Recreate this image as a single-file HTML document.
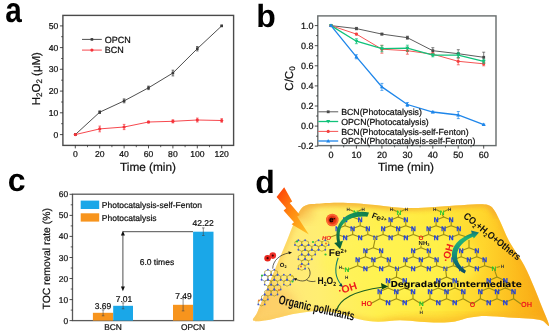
<!DOCTYPE html>
<html><head><meta charset="utf-8"><title>figure</title>
<style>html,body{margin:0;padding:0;background:#fff}svg{display:block}svg text{font-family:"Liberation Sans",Arial,sans-serif;text-rendering:geometricPrecision}</style></head>
<body><svg width="550" height="335" viewBox="0 0 550 335" font-family='"Liberation Sans", Arial, sans-serif'>
<rect width="550" height="335" fill="#fff"/>
<rect x="62.9" y="15.4" width="170.7" height="130.0" fill="#fff" stroke="#4a4a4a" stroke-width="1.4"/>
<line x1="59.9" y1="134.6" x2="62.9" y2="134.6" stroke="#222" stroke-width="0.8"/>
<text x="58.3" y="137.7" font-size="8.6" text-anchor="end" font-weight="normal" fill="#111" stroke="#111" stroke-width="0.22" >0</text>
<line x1="59.9" y1="112.8" x2="62.9" y2="112.8" stroke="#222" stroke-width="0.8"/>
<text x="58.3" y="115.9" font-size="8.6" text-anchor="end" font-weight="normal" fill="#111" stroke="#111" stroke-width="0.22" >10</text>
<line x1="59.9" y1="91.1" x2="62.9" y2="91.1" stroke="#222" stroke-width="0.8"/>
<text x="58.3" y="94.2" font-size="8.6" text-anchor="end" font-weight="normal" fill="#111" stroke="#111" stroke-width="0.22" >20</text>
<line x1="59.9" y1="69.3" x2="62.9" y2="69.3" stroke="#222" stroke-width="0.8"/>
<text x="58.3" y="72.4" font-size="8.6" text-anchor="end" font-weight="normal" fill="#111" stroke="#111" stroke-width="0.22" >30</text>
<line x1="59.9" y1="47.6" x2="62.9" y2="47.6" stroke="#222" stroke-width="0.8"/>
<text x="58.3" y="50.7" font-size="8.6" text-anchor="end" font-weight="normal" fill="#111" stroke="#111" stroke-width="0.22" >40</text>
<line x1="59.9" y1="25.9" x2="62.9" y2="25.9" stroke="#222" stroke-width="0.8"/>
<text x="58.3" y="29.0" font-size="8.6" text-anchor="end" font-weight="normal" fill="#111" stroke="#111" stroke-width="0.22" >50</text>
<line x1="61.1" y1="123.7" x2="62.9" y2="123.7" stroke="#222" stroke-width="0.7"/>
<line x1="61.1" y1="102.0" x2="62.9" y2="102.0" stroke="#222" stroke-width="0.7"/>
<line x1="61.1" y1="80.2" x2="62.9" y2="80.2" stroke="#222" stroke-width="0.7"/>
<line x1="61.1" y1="58.5" x2="62.9" y2="58.5" stroke="#222" stroke-width="0.7"/>
<line x1="61.1" y1="36.7" x2="62.9" y2="36.7" stroke="#222" stroke-width="0.7"/>
<line x1="75.3" y1="145.4" x2="75.3" y2="148.4" stroke="#222" stroke-width="0.8"/>
<text x="75.3" y="157.1" font-size="8.6" text-anchor="middle" font-weight="normal" fill="#111" stroke="#111" stroke-width="0.22" >0</text>
<line x1="99.7" y1="145.4" x2="99.7" y2="148.4" stroke="#222" stroke-width="0.8"/>
<text x="99.7" y="157.1" font-size="8.6" text-anchor="middle" font-weight="normal" fill="#111" stroke="#111" stroke-width="0.22" >20</text>
<line x1="124.1" y1="145.4" x2="124.1" y2="148.4" stroke="#222" stroke-width="0.8"/>
<text x="124.1" y="157.1" font-size="8.6" text-anchor="middle" font-weight="normal" fill="#111" stroke="#111" stroke-width="0.22" >40</text>
<line x1="148.5" y1="145.4" x2="148.5" y2="148.4" stroke="#222" stroke-width="0.8"/>
<text x="148.5" y="157.1" font-size="8.6" text-anchor="middle" font-weight="normal" fill="#111" stroke="#111" stroke-width="0.22" >60</text>
<line x1="172.9" y1="145.4" x2="172.9" y2="148.4" stroke="#222" stroke-width="0.8"/>
<text x="172.9" y="157.1" font-size="8.6" text-anchor="middle" font-weight="normal" fill="#111" stroke="#111" stroke-width="0.22" >80</text>
<line x1="197.3" y1="145.4" x2="197.3" y2="148.4" stroke="#222" stroke-width="0.8"/>
<text x="197.3" y="157.1" font-size="8.6" text-anchor="middle" font-weight="normal" fill="#111" stroke="#111" stroke-width="0.22" >100</text>
<line x1="221.7" y1="145.4" x2="221.7" y2="148.4" stroke="#222" stroke-width="0.8"/>
<text x="221.7" y="157.1" font-size="8.6" text-anchor="middle" font-weight="normal" fill="#111" stroke="#111" stroke-width="0.22" >120</text>
<line x1="87.5" y1="145.4" x2="87.5" y2="147.20000000000002" stroke="#222" stroke-width="0.7"/>
<line x1="111.9" y1="145.4" x2="111.9" y2="147.20000000000002" stroke="#222" stroke-width="0.7"/>
<line x1="136.3" y1="145.4" x2="136.3" y2="147.20000000000002" stroke="#222" stroke-width="0.7"/>
<line x1="160.7" y1="145.4" x2="160.7" y2="147.20000000000002" stroke="#222" stroke-width="0.7"/>
<line x1="185.1" y1="145.4" x2="185.1" y2="147.20000000000002" stroke="#222" stroke-width="0.7"/>
<line x1="209.5" y1="145.4" x2="209.5" y2="147.20000000000002" stroke="#222" stroke-width="0.7"/>
<polyline points="75.3,134.6 99.7,112.2 124.1,100.9 148.5,87.8 172.9,73.0 197.3,48.7 221.7,25.9" fill="none" stroke="#3a3a3a" stroke-width="0.9"/>
<path d="M75.3 134.2V135.0M74.0 134.2h2.6M74.0 135.0h2.6" stroke="#3a3a3a" stroke-width="0.7" fill="none"/>
<rect x="74.0" y="133.3" width="2.6" height="2.6" fill="#3a3a3a"/>
<path d="M99.7 110.9V113.5M98.4 110.9h2.6M98.4 113.5h2.6" stroke="#3a3a3a" stroke-width="0.7" fill="none"/>
<rect x="98.4" y="110.9" width="2.6" height="2.6" fill="#3a3a3a"/>
<path d="M124.1 98.9V102.8M122.8 98.9h2.6M122.8 102.8h2.6" stroke="#3a3a3a" stroke-width="0.7" fill="none"/>
<rect x="122.8" y="99.6" width="2.6" height="2.6" fill="#3a3a3a"/>
<path d="M148.5 86.1V89.6M147.2 86.1h2.6M147.2 89.6h2.6" stroke="#3a3a3a" stroke-width="0.7" fill="none"/>
<rect x="147.2" y="86.5" width="2.6" height="2.6" fill="#3a3a3a"/>
<path d="M172.9 70.2V75.9M171.6 70.2h2.6M171.6 75.9h2.6" stroke="#3a3a3a" stroke-width="0.7" fill="none"/>
<rect x="171.6" y="71.7" width="2.6" height="2.6" fill="#3a3a3a"/>
<path d="M197.3 46.5V50.9M196.0 46.5h2.6M196.0 50.9h2.6" stroke="#3a3a3a" stroke-width="0.7" fill="none"/>
<rect x="196.0" y="47.4" width="2.6" height="2.6" fill="#3a3a3a"/>
<path d="M221.7 25.2V26.5M220.4 25.2h2.6M220.4 26.5h2.6" stroke="#3a3a3a" stroke-width="0.7" fill="none"/>
<rect x="220.4" y="24.6" width="2.6" height="2.6" fill="#3a3a3a"/>
<polyline points="75.3,134.6 99.7,128.9 124.1,127.0 148.5,122.0 172.9,121.3 197.3,120.0 221.7,120.5" fill="none" stroke="#f5333a" stroke-width="0.9"/>
<path d="M75.3 134.2V135.0M74.0 134.2h2.6M74.0 135.0h2.6" stroke="#f5333a" stroke-width="0.7" fill="none"/>
<circle cx="75.3" cy="134.6" r="1.6" fill="#f5333a"/>
<path d="M99.7 126.1V131.8M98.4 126.1h2.6M98.4 131.8h2.6" stroke="#f5333a" stroke-width="0.7" fill="none"/>
<circle cx="99.7" cy="128.9" r="1.6" fill="#f5333a"/>
<path d="M124.1 124.4V129.6M122.8 124.4h2.6M122.8 129.6h2.6" stroke="#f5333a" stroke-width="0.7" fill="none"/>
<circle cx="124.1" cy="127.0" r="1.6" fill="#f5333a"/>
<path d="M148.5 121.1V122.9M147.2 121.1h2.6M147.2 122.9h2.6" stroke="#f5333a" stroke-width="0.7" fill="none"/>
<circle cx="148.5" cy="122.0" r="1.6" fill="#f5333a"/>
<path d="M172.9 119.8V122.9M171.6 119.8h2.6M171.6 122.9h2.6" stroke="#f5333a" stroke-width="0.7" fill="none"/>
<circle cx="172.9" cy="121.3" r="1.6" fill="#f5333a"/>
<path d="M197.3 118.1V122.0M196.0 118.1h2.6M196.0 122.0h2.6" stroke="#f5333a" stroke-width="0.7" fill="none"/>
<circle cx="197.3" cy="120.0" r="1.6" fill="#f5333a"/>
<path d="M221.7 118.7V122.2M220.4 118.7h2.6M220.4 122.2h2.6" stroke="#f5333a" stroke-width="0.7" fill="none"/>
<circle cx="221.7" cy="120.5" r="1.6" fill="#f5333a"/>
<line x1="82" y1="39.4" x2="101.8" y2="39.4" stroke="#3a3a3a" stroke-width="0.9"/><rect x="90.6" y="38.1" width="2.6" height="2.6" fill="#3a3a3a"/>
<line x1="82" y1="50.1" x2="101.8" y2="50.1" stroke="#f5333a" stroke-width="0.9"/><circle cx="91.9" cy="50.1" r="1.6" fill="#f5333a"/>
<text x="104.8" y="42.6" font-size="9" text-anchor="start" font-weight="normal" fill="#111" stroke="#111" stroke-width="0.22" >OPCN</text>
<text x="104.8" y="53.3" font-size="9" text-anchor="start" font-weight="normal" fill="#111" stroke="#111" stroke-width="0.22" >BCN</text>
<text transform="translate(39.6,78.7) rotate(-90)" font-size="11.5" text-anchor="middle" fill="#111" stroke="#111" stroke-width="0.2">H<tspan font-size="8" dy="2.5">2</tspan><tspan dy="-2.5">O</tspan><tspan font-size="8" dy="2.5">2</tspan><tspan dy="-2.5"> (μM)</tspan></text>
<text x="148.0" y="171.0" font-size="11.8" text-anchor="middle" font-weight="normal" fill="#111" stroke="#111" stroke-width="0.22" >Time (min)</text>
<rect x="317.8" y="15.9" width="178.2" height="129.7" fill="#fff" stroke="#666c6c" stroke-width="1.4"/>
<line x1="314.8" y1="146.2" x2="317.8" y2="146.2" stroke="#222" stroke-width="0.8"/>
<text x="313.6" y="149.4" font-size="9" text-anchor="end" font-weight="normal" fill="#111" stroke="#111" stroke-width="0.22" >-0.2</text>
<line x1="316.0" y1="136.2" x2="317.8" y2="136.2" stroke="#222" stroke-width="0.7"/>
<line x1="314.8" y1="126.1" x2="317.8" y2="126.1" stroke="#222" stroke-width="0.8"/>
<text x="313.6" y="129.3" font-size="9" text-anchor="end" font-weight="normal" fill="#111" stroke="#111" stroke-width="0.22" >0.0</text>
<line x1="316.0" y1="116.0" x2="317.8" y2="116.0" stroke="#222" stroke-width="0.7"/>
<line x1="314.8" y1="106.0" x2="317.8" y2="106.0" stroke="#222" stroke-width="0.8"/>
<text x="313.6" y="109.2" font-size="9" text-anchor="end" font-weight="normal" fill="#111" stroke="#111" stroke-width="0.22" >0.2</text>
<line x1="316.0" y1="95.9" x2="317.8" y2="95.9" stroke="#222" stroke-width="0.7"/>
<line x1="314.8" y1="85.9" x2="317.8" y2="85.9" stroke="#222" stroke-width="0.8"/>
<text x="313.6" y="89.1" font-size="9" text-anchor="end" font-weight="normal" fill="#111" stroke="#111" stroke-width="0.22" >0.4</text>
<line x1="316.0" y1="75.8" x2="317.8" y2="75.8" stroke="#222" stroke-width="0.7"/>
<line x1="314.8" y1="65.8" x2="317.8" y2="65.8" stroke="#222" stroke-width="0.8"/>
<text x="313.6" y="69.0" font-size="9" text-anchor="end" font-weight="normal" fill="#111" stroke="#111" stroke-width="0.22" >0.6</text>
<line x1="316.0" y1="55.8" x2="317.8" y2="55.8" stroke="#222" stroke-width="0.7"/>
<line x1="314.8" y1="45.7" x2="317.8" y2="45.7" stroke="#222" stroke-width="0.8"/>
<text x="313.6" y="48.9" font-size="9" text-anchor="end" font-weight="normal" fill="#111" stroke="#111" stroke-width="0.22" >0.8</text>
<line x1="316.0" y1="35.6" x2="317.8" y2="35.6" stroke="#222" stroke-width="0.7"/>
<line x1="314.8" y1="25.6" x2="317.8" y2="25.6" stroke="#222" stroke-width="0.8"/>
<text x="313.6" y="28.8" font-size="9" text-anchor="end" font-weight="normal" fill="#111" stroke="#111" stroke-width="0.22" >1.0</text>
<line x1="331.0" y1="145.6" x2="331.0" y2="148.6" stroke="#222" stroke-width="0.8"/>
<text x="331.0" y="157.8" font-size="9" text-anchor="middle" font-weight="normal" fill="#111" stroke="#111" stroke-width="0.22" >0</text>
<line x1="356.4" y1="145.6" x2="356.4" y2="148.6" stroke="#222" stroke-width="0.8"/>
<text x="356.4" y="157.8" font-size="9" text-anchor="middle" font-weight="normal" fill="#111" stroke="#111" stroke-width="0.22" >10</text>
<line x1="381.9" y1="145.6" x2="381.9" y2="148.6" stroke="#222" stroke-width="0.8"/>
<text x="381.9" y="157.8" font-size="9" text-anchor="middle" font-weight="normal" fill="#111" stroke="#111" stroke-width="0.22" >20</text>
<line x1="407.4" y1="145.6" x2="407.4" y2="148.6" stroke="#222" stroke-width="0.8"/>
<text x="407.4" y="157.8" font-size="9" text-anchor="middle" font-weight="normal" fill="#111" stroke="#111" stroke-width="0.22" >30</text>
<line x1="432.8" y1="145.6" x2="432.8" y2="148.6" stroke="#222" stroke-width="0.8"/>
<text x="432.8" y="157.8" font-size="9" text-anchor="middle" font-weight="normal" fill="#111" stroke="#111" stroke-width="0.22" >40</text>
<line x1="458.2" y1="145.6" x2="458.2" y2="148.6" stroke="#222" stroke-width="0.8"/>
<text x="458.2" y="157.8" font-size="9" text-anchor="middle" font-weight="normal" fill="#111" stroke="#111" stroke-width="0.22" >50</text>
<line x1="483.7" y1="145.6" x2="483.7" y2="148.6" stroke="#222" stroke-width="0.8"/>
<text x="483.7" y="157.8" font-size="9" text-anchor="middle" font-weight="normal" fill="#111" stroke="#111" stroke-width="0.22" >60</text>
<line x1="343.7" y1="145.6" x2="343.7" y2="147.4" stroke="#222" stroke-width="0.7"/>
<line x1="369.2" y1="145.6" x2="369.2" y2="147.4" stroke="#222" stroke-width="0.7"/>
<line x1="394.6" y1="145.6" x2="394.6" y2="147.4" stroke="#222" stroke-width="0.7"/>
<line x1="420.1" y1="145.6" x2="420.1" y2="147.4" stroke="#222" stroke-width="0.7"/>
<line x1="445.5" y1="145.6" x2="445.5" y2="147.4" stroke="#222" stroke-width="0.7"/>
<line x1="471.0" y1="145.6" x2="471.0" y2="147.4" stroke="#222" stroke-width="0.7"/>
<polyline points="331.0,25.6 356.4,28.6 381.9,34.1 407.4,37.7 432.8,50.7 458.2,53.7 483.7,57.3" fill="none" stroke="#4a4a4a" stroke-width="0.9"/>
<rect x="329.6" y="24.2" width="2.8" height="2.8" fill="#4a4a4a"/>
<path d="M356.4 27.4V29.8M354.9 27.4h3M354.9 29.8h3" stroke="#4a4a4a" stroke-width="0.7" fill="none"/>
<rect x="355.1" y="27.2" width="2.8" height="2.8" fill="#4a4a4a"/>
<path d="M381.9 33.3V34.9M380.4 33.3h3M380.4 34.9h3" stroke="#4a4a4a" stroke-width="0.7" fill="none"/>
<rect x="380.5" y="32.7" width="2.8" height="2.8" fill="#4a4a4a"/>
<path d="M407.4 36.2V39.2M405.9 36.2h3M405.9 39.2h3" stroke="#4a4a4a" stroke-width="0.7" fill="none"/>
<rect x="406.0" y="36.3" width="2.8" height="2.8" fill="#4a4a4a"/>
<path d="M432.8 47.7V53.7M431.3 47.7h3M431.3 53.7h3" stroke="#4a4a4a" stroke-width="0.7" fill="none"/>
<rect x="431.4" y="49.3" width="2.8" height="2.8" fill="#4a4a4a"/>
<path d="M458.2 49.7V57.8M456.8 49.7h3M456.8 57.8h3" stroke="#4a4a4a" stroke-width="0.7" fill="none"/>
<rect x="456.9" y="52.3" width="2.8" height="2.8" fill="#4a4a4a"/>
<path d="M483.7 52.2V62.3M482.2 52.2h3M482.2 62.3h3" stroke="#4a4a4a" stroke-width="0.7" fill="none"/>
<rect x="482.3" y="55.9" width="2.8" height="2.8" fill="#4a4a4a"/>
<polyline points="331.0,25.6 356.4,34.1 381.9,49.2 407.4,50.7 432.8,54.2 458.2,61.3 483.7,63.8" fill="none" stroke="#f4403f" stroke-width="0.9"/>
<circle cx="331.0" cy="25.6" r="1.6" fill="#f4403f"/>
<path d="M356.4 33.3V34.9M354.9 33.3h3M354.9 34.9h3" stroke="#f4403f" stroke-width="0.7" fill="none"/>
<circle cx="356.4" cy="34.1" r="1.6" fill="#f4403f"/>
<path d="M381.9 45.2V53.2M380.4 45.2h3M380.4 53.2h3" stroke="#f4403f" stroke-width="0.7" fill="none"/>
<circle cx="381.9" cy="49.2" r="1.6" fill="#f4403f"/>
<path d="M407.4 47.2V54.2M405.9 47.2h3M405.9 54.2h3" stroke="#f4403f" stroke-width="0.7" fill="none"/>
<circle cx="407.4" cy="50.7" r="1.6" fill="#f4403f"/>
<path d="M432.8 52.7V55.7M431.3 52.7h3M431.3 55.7h3" stroke="#f4403f" stroke-width="0.7" fill="none"/>
<circle cx="432.8" cy="54.2" r="1.6" fill="#f4403f"/>
<path d="M458.2 57.8V64.8M456.8 57.8h3M456.8 64.8h3" stroke="#f4403f" stroke-width="0.7" fill="none"/>
<circle cx="458.2" cy="61.3" r="1.6" fill="#f4403f"/>
<path d="M483.7 61.8V65.8M482.2 61.8h3M482.2 65.8h3" stroke="#f4403f" stroke-width="0.7" fill="none"/>
<circle cx="483.7" cy="63.8" r="1.6" fill="#f4403f"/>
<polyline points="331.0,25.6 356.4,41.2 381.9,48.7 407.4,48.2 432.8,55.2 458.2,55.2 483.7,61.3" fill="none" stroke="#10c27a" stroke-width="1.3"/>
<path d="M331.0 27.6l2 -3.4h-4z" fill="#10c27a"/>
<path d="M356.4 38.7V43.7M354.9 38.7h3M354.9 43.7h3" stroke="#10c27a" stroke-width="0.7" fill="none"/>
<path d="M356.4 43.2l2 -3.4h-4z" fill="#10c27a"/>
<path d="M381.9 45.7V51.7M380.4 45.7h3M380.4 51.7h3" stroke="#10c27a" stroke-width="0.7" fill="none"/>
<path d="M381.9 50.7l2 -3.4h-4z" fill="#10c27a"/>
<path d="M407.4 45.2V51.2M405.9 45.2h3M405.9 51.2h3" stroke="#10c27a" stroke-width="0.7" fill="none"/>
<path d="M407.4 50.2l2 -3.4h-4z" fill="#10c27a"/>
<path d="M432.8 53.7V56.8M431.3 53.7h3M431.3 56.8h3" stroke="#10c27a" stroke-width="0.7" fill="none"/>
<path d="M432.8 57.2l2 -3.4h-4z" fill="#10c27a"/>
<path d="M458.2 52.7V57.8M456.8 52.7h3M456.8 57.8h3" stroke="#10c27a" stroke-width="0.7" fill="none"/>
<path d="M458.2 57.2l2 -3.4h-4z" fill="#10c27a"/>
<path d="M483.7 59.3V63.3M482.2 59.3h3M482.2 63.3h3" stroke="#10c27a" stroke-width="0.7" fill="none"/>
<path d="M483.7 63.3l2 -3.4h-4z" fill="#10c27a"/>
<polyline points="331.0,25.6 356.4,56.8 381.9,86.9 407.4,104.5 432.8,112.0 458.2,115.0 483.7,124.6" fill="none" stroke="#1e86ea" stroke-width="1.3"/>
<path d="M331.0 23.6l2 3.4h-4z" fill="#1e86ea"/>
<path d="M356.4 54.7V58.8M354.9 54.7h3M354.9 58.8h3" stroke="#1e86ea" stroke-width="0.7" fill="none"/>
<path d="M356.4 54.8l2 3.4h-4z" fill="#1e86ea"/>
<path d="M381.9 83.4V90.4M380.4 83.4h3M380.4 90.4h3" stroke="#1e86ea" stroke-width="0.7" fill="none"/>
<path d="M381.9 84.9l2 3.4h-4z" fill="#1e86ea"/>
<path d="M407.4 102.5V106.5M405.9 102.5h3M405.9 106.5h3" stroke="#1e86ea" stroke-width="0.7" fill="none"/>
<path d="M407.4 102.5l2 3.4h-4z" fill="#1e86ea"/>
<path d="M432.8 111.2V112.8M431.3 111.2h3M431.3 112.8h3" stroke="#1e86ea" stroke-width="0.7" fill="none"/>
<path d="M432.8 110.0l2 3.4h-4z" fill="#1e86ea"/>
<path d="M458.2 111.5V118.6M456.8 111.5h3M456.8 118.6h3" stroke="#1e86ea" stroke-width="0.7" fill="none"/>
<path d="M458.2 113.0l2 3.4h-4z" fill="#1e86ea"/>
<path d="M483.7 124.1V125.1M482.2 124.1h3M482.2 125.1h3" stroke="#1e86ea" stroke-width="0.7" fill="none"/>
<path d="M483.7 122.6l2 3.4h-4z" fill="#1e86ea"/>
<line x1="318.3" y1="111.8" x2="338.2" y2="111.8" stroke="#4a4a4a" stroke-width="0.9"/>
<rect x="326.8" y="110.4" width="2.8" height="2.8" fill="#4a4a4a"/>
<text x="341.2" y="114.9" font-size="8.76" text-anchor="start" font-weight="normal" fill="#111" stroke="#111" stroke-width="0.22" >BCN(Photocatalysis)</text>
<line x1="318.3" y1="121.5" x2="338.2" y2="121.5" stroke="#10c27a" stroke-width="1.3"/>
<path d="M328.2 123.5l2 -3.4h-4z" fill="#10c27a"/>
<text x="341.2" y="124.6" font-size="8.76" text-anchor="start" font-weight="normal" fill="#111" stroke="#111" stroke-width="0.22" >OPCN(Photocatalysis)</text>
<line x1="318.3" y1="131.4" x2="338.2" y2="131.4" stroke="#f4403f" stroke-width="0.9"/>
<circle cx="328.2" cy="131.4" r="1.6" fill="#f4403f"/>
<text x="341.2" y="134.5" font-size="8.76" text-anchor="start" font-weight="normal" fill="#111" stroke="#111" stroke-width="0.22" >BCN(Photocatalysis-self-Fenton)</text>
<line x1="318.3" y1="141.0" x2="338.2" y2="141.0" stroke="#1e86ea" stroke-width="1.3"/>
<path d="M328.2 139.0l2 3.4h-4z" fill="#1e86ea"/>
<text x="341.2" y="144.1" font-size="8.76" text-anchor="start" font-weight="normal" fill="#111" stroke="#111" stroke-width="0.22" >OPCN(Photocatalysis-self-Fenton)</text>
<text transform="translate(292.5,78.5) rotate(-90)" font-size="11.5" text-anchor="middle" fill="#111" stroke="#111" stroke-width="0.2">C/C<tspan font-size="8" dy="2.5">0</tspan></text>
<text x="406.0" y="171.0" font-size="11.8" text-anchor="middle" font-weight="normal" fill="#111" stroke="#111" stroke-width="0.22" >Time (min)</text>
<rect x="72.5" y="194.2" width="161.1" height="126.4" fill="#fff" stroke="#5a5a5a" stroke-width="1.3"/>
<line x1="69.5" y1="320.6" x2="72.5" y2="320.6" stroke="#222" stroke-width="0.8"/>
<text x="68.2" y="323.6" font-size="8.4" text-anchor="end" font-weight="normal" fill="#111" stroke="#111" stroke-width="0.22" >0</text>
<line x1="69.5" y1="299.6" x2="72.5" y2="299.6" stroke="#222" stroke-width="0.8"/>
<text x="68.2" y="302.6" font-size="8.4" text-anchor="end" font-weight="normal" fill="#111" stroke="#111" stroke-width="0.22" >10</text>
<line x1="69.5" y1="278.5" x2="72.5" y2="278.5" stroke="#222" stroke-width="0.8"/>
<text x="68.2" y="281.5" font-size="8.4" text-anchor="end" font-weight="normal" fill="#111" stroke="#111" stroke-width="0.22" >20</text>
<line x1="69.5" y1="257.5" x2="72.5" y2="257.5" stroke="#222" stroke-width="0.8"/>
<text x="68.2" y="260.5" font-size="8.4" text-anchor="end" font-weight="normal" fill="#111" stroke="#111" stroke-width="0.22" >30</text>
<line x1="69.5" y1="236.4" x2="72.5" y2="236.4" stroke="#222" stroke-width="0.8"/>
<text x="68.2" y="239.4" font-size="8.4" text-anchor="end" font-weight="normal" fill="#111" stroke="#111" stroke-width="0.22" >40</text>
<line x1="69.5" y1="215.4" x2="72.5" y2="215.4" stroke="#222" stroke-width="0.8"/>
<text x="68.2" y="218.4" font-size="8.4" text-anchor="end" font-weight="normal" fill="#111" stroke="#111" stroke-width="0.22" >50</text>
<line x1="69.5" y1="194.3" x2="72.5" y2="194.3" stroke="#222" stroke-width="0.8"/>
<text x="68.2" y="197.3" font-size="8.4" text-anchor="end" font-weight="normal" fill="#111" stroke="#111" stroke-width="0.22" >60</text>
<line x1="70.7" y1="310.1" x2="72.5" y2="310.1" stroke="#222" stroke-width="0.7"/>
<line x1="70.7" y1="289.0" x2="72.5" y2="289.0" stroke="#222" stroke-width="0.7"/>
<line x1="70.7" y1="268.0" x2="72.5" y2="268.0" stroke="#222" stroke-width="0.7"/>
<line x1="70.7" y1="246.9" x2="72.5" y2="246.9" stroke="#222" stroke-width="0.7"/>
<line x1="70.7" y1="225.9" x2="72.5" y2="225.9" stroke="#222" stroke-width="0.7"/>
<line x1="70.7" y1="204.8" x2="72.5" y2="204.8" stroke="#222" stroke-width="0.7"/>
<rect x="92.9" y="312.8" width="20.3" height="7.8" fill="#f7941d"/>
<path d="M103.1 309.9V315.8M101.8 309.9h2.6M101.8 315.8h2.6" stroke="#444" stroke-width="0.6" fill="none"/>
<rect x="113.2" y="305.8" width="19.8" height="14.8" fill="#1aa7e8"/>
<path d="M123.1 302.9V308.8M121.8 302.9h2.6M121.8 308.8h2.6" stroke="#444" stroke-width="0.6" fill="none"/>
<rect x="173.0" y="304.8" width="20.1" height="15.8" fill="#f7941d"/>
<path d="M183.1 298.7V310.9M181.8 298.7h2.6M181.8 310.9h2.6" stroke="#444" stroke-width="0.6" fill="none"/>
<rect x="193.1" y="231.7" width="20.4" height="88.9" fill="#1aa7e8"/>
<path d="M203.3 227.9V235.5M202.0 227.9h2.6M202.0 235.5h2.6" stroke="#444" stroke-width="0.6" fill="none"/>
<text x="103.0" y="308.8" font-size="8.5" text-anchor="middle" font-weight="normal" fill="#111" stroke="#111" stroke-width="0.22" >3.69</text>
<text x="124.0" y="301.5" font-size="8.5" text-anchor="middle" font-weight="normal" fill="#111" stroke="#111" stroke-width="0.22" >7.01</text>
<text x="183.5" y="298.7" font-size="8.5" text-anchor="middle" font-weight="normal" fill="#111" stroke="#111" stroke-width="0.22" >7.49</text>
<text x="203.2" y="225.8" font-size="8.5" text-anchor="middle" font-weight="normal" fill="#111" stroke="#111" stroke-width="0.22" >42.22</text>
<rect x="80.7" y="200.6" width="18.5" height="8.4" fill="#1aa7e8"/><rect x="80.7" y="213.3" width="18.5" height="8.3" fill="#f7941d"/>
<text x="101.8" y="207.9" font-size="8.5" text-anchor="start" font-weight="normal" fill="#111" stroke="#111" stroke-width="0.22" >Photocatalysis-self-Fenton</text>
<text x="101.8" y="220.5" font-size="8.5" text-anchor="start" font-weight="normal" fill="#111" stroke="#111" stroke-width="0.22" >Photocatalysis</text>
<path d="M122.9 233.5V288.5M122.9 231.7H193" stroke="#222" stroke-width="0.8" fill="none"/>
<path d="M122.9 230.8l-2 4.6h4z M122.9 291.2l-2 -4.6h4z" fill="#111"/>
<text x="139.7" y="264.5" font-size="8.5" text-anchor="start" font-weight="normal" fill="#111" stroke="#111" stroke-width="0.22" >6.0 times</text>
<text x="113.0" y="329.8" font-size="8.4" text-anchor="middle" font-weight="normal" fill="#111" stroke="#111" stroke-width="0.22" >BCN</text>
<text x="193.0" y="329.8" font-size="8.4" text-anchor="middle" font-weight="normal" fill="#111" stroke="#111" stroke-width="0.22" >OPCN</text>
<text transform="translate(49.8,258.8) rotate(-90)" font-size="10.4" text-anchor="middle" fill="#111" stroke="#111" stroke-width="0.2">TOC removal rate (%)</text>
<defs>
<linearGradient id="sheetg" x1="0" y1="0" x2="1" y2="0"><stop offset="0" stop-color="#fdda78"/><stop offset="0.1" stop-color="#ffe87a"/><stop offset="0.22" stop-color="#ffee72"/><stop offset="0.42" stop-color="#fff04e"/><stop offset="0.62" stop-color="#ffea3e"/><stop offset="0.78" stop-color="#ffd52c"/><stop offset="0.9" stop-color="#fcb91c"/><stop offset="1" stop-color="#f8a412"/></linearGradient>
<linearGradient id="boltg" x1="0" y1="0" x2="1" y2="1"><stop offset="0" stop-color="#ff3a08"/><stop offset="0.5" stop-color="#ff8a10"/><stop offset="1" stop-color="#ffc426"/></linearGradient>
<linearGradient id="arr1" x1="1" y1="0" x2="0" y2="1"><stop offset="0" stop-color="#0f7a46"/><stop offset="0.5" stop-color="#19a06a"/><stop offset="1" stop-color="#064f2a"/></linearGradient>
<linearGradient id="arr2" x1="0" y1="0" x2="0" y2="1"><stop offset="0" stop-color="#0f6a78"/><stop offset="0.18" stop-color="#22b478"/><stop offset="0.55" stop-color="#14907a"/><stop offset="1" stop-color="#0a4868"/></linearGradient>
<radialGradient id="eg"><stop offset="0" stop-color="#d42408"/><stop offset="0.6" stop-color="#e83a14"/><stop offset="0.82" stop-color="#ff6a3a"/><stop offset="1" stop-color="#f2561e"/></radialGradient>
<filter id="bl6" x="-20%" y="-20%" width="140%" height="140%"><feGaussianBlur stdDeviation="5"/></filter>
<filter id="bl4" x="-20%" y="-20%" width="140%" height="140%"><feGaussianBlur stdDeviation="2.6"/></filter>
<filter id="bl1" x="-20%" y="-20%" width="140%" height="140%"><feGaussianBlur stdDeviation="0.5"/></filter>
</defs>
<clipPath id="sheetc"><path d="M304.0 206.3C308.5 203.4 314.7 204.0 322.0 203.4C329.3 202.8 339.2 202.7 348.0 203.0C356.8 203.3 366.3 204.2 375.0 205.0C383.7 205.8 391.2 207.4 400.0 207.8C408.8 208.2 418.7 207.8 428.0 207.4C437.3 207.0 447.5 206.0 456.0 205.5C464.5 205.0 473.2 204.0 479.0 204.2C484.8 204.4 487.6 204.0 491.0 206.6C494.4 209.2 496.5 214.3 499.5 220.0C502.5 225.7 504.9 233.5 509.0 241.0C513.1 248.5 519.8 257.3 524.0 265.0C528.2 272.7 531.0 280.0 534.0 287.0C537.0 294.0 539.5 300.6 542.0 307.0C544.5 313.4 549.0 323.2 549.0 325.5C549.0 327.8 545.5 321.7 542.0 320.5C538.5 319.3 533.5 318.9 528.0 318.4C522.5 317.9 516.0 317.8 509.0 317.4C502.0 317.0 492.5 316.0 486.0 316.0C479.5 316.0 475.2 316.7 470.0 317.6C464.8 318.5 460.0 320.6 455.0 321.4C450.0 322.2 445.8 322.4 440.0 322.5C434.2 322.6 426.7 322.1 420.0 321.7C413.3 321.3 407.0 320.2 400.0 320.2C393.0 320.2 384.8 321.9 378.0 321.8C371.2 321.7 365.3 320.6 359.0 319.3C352.7 318.0 346.8 315.2 340.0 313.8C333.2 312.4 325.3 311.0 318.0 311.0C310.7 311.0 302.7 312.6 296.4 313.6C290.1 314.6 285.0 316.1 280.0 317.2C275.0 318.3 270.9 319.6 266.4 320.2C261.9 320.8 254.7 321.9 253.2 320.5C251.7 319.1 255.4 316.9 257.5 312.0C259.6 307.1 262.9 298.7 266.0 291.0C269.1 283.3 272.9 274.3 276.4 266.0C279.9 257.7 283.7 248.5 286.8 241.0C289.9 233.5 292.1 226.8 295.0 221.0C297.9 215.2 299.5 209.2 304.0 206.3Z"/></clipPath>
<path d="M304.0 206.3C308.5 203.4 314.7 204.0 322.0 203.4C329.3 202.8 339.2 202.7 348.0 203.0C356.8 203.3 366.3 204.2 375.0 205.0C383.7 205.8 391.2 207.4 400.0 207.8C408.8 208.2 418.7 207.8 428.0 207.4C437.3 207.0 447.5 206.0 456.0 205.5C464.5 205.0 473.2 204.0 479.0 204.2C484.8 204.4 487.6 204.0 491.0 206.6C494.4 209.2 496.5 214.3 499.5 220.0C502.5 225.7 504.9 233.5 509.0 241.0C513.1 248.5 519.8 257.3 524.0 265.0C528.2 272.7 531.0 280.0 534.0 287.0C537.0 294.0 539.5 300.6 542.0 307.0C544.5 313.4 549.0 323.2 549.0 325.5C549.0 327.8 545.5 321.7 542.0 320.5C538.5 319.3 533.5 318.9 528.0 318.4C522.5 317.9 516.0 317.8 509.0 317.4C502.0 317.0 492.5 316.0 486.0 316.0C479.5 316.0 475.2 316.7 470.0 317.6C464.8 318.5 460.0 320.6 455.0 321.4C450.0 322.2 445.8 322.4 440.0 322.5C434.2 322.6 426.7 322.1 420.0 321.7C413.3 321.3 407.0 320.2 400.0 320.2C393.0 320.2 384.8 321.9 378.0 321.8C371.2 321.7 365.3 320.6 359.0 319.3C352.7 318.0 346.8 315.2 340.0 313.8C333.2 312.4 325.3 311.0 318.0 311.0C310.7 311.0 302.7 312.6 296.4 313.6C290.1 314.6 285.0 316.1 280.0 317.2C275.0 318.3 270.9 319.6 266.4 320.2C261.9 320.8 254.7 321.9 253.2 320.5C251.7 319.1 255.4 316.9 257.5 312.0C259.6 307.1 262.9 298.7 266.0 291.0C269.1 283.3 272.9 274.3 276.4 266.0C279.9 257.7 283.7 248.5 286.8 241.0C289.9 233.5 292.1 226.8 295.0 221.0C297.9 215.2 299.5 209.2 304.0 206.3Z" fill="url(#sheetg)"/>
<g clip-path="url(#sheetc)"><path d="M304.0 206.3C308.5 203.4 314.7 204.0 322.0 203.4C329.3 202.8 339.2 202.7 348.0 203.0C356.8 203.3 366.3 204.2 375.0 205.0C383.7 205.8 391.2 207.4 400.0 207.8C408.8 208.2 418.7 207.8 428.0 207.4C437.3 207.0 447.5 206.0 456.0 205.5C464.5 205.0 473.2 204.0 479.0 204.2C484.8 204.4 487.6 204.0 491.0 206.6C494.4 209.2 496.5 214.3 499.5 220.0C502.5 225.7 504.9 233.5 509.0 241.0C513.1 248.5 519.8 257.3 524.0 265.0C528.2 272.7 531.0 280.0 534.0 287.0C537.0 294.0 539.5 300.6 542.0 307.0C544.5 313.4 549.0 323.2 549.0 325.5C549.0 327.8 545.5 321.7 542.0 320.5C538.5 319.3 533.5 318.9 528.0 318.4C522.5 317.9 516.0 317.8 509.0 317.4C502.0 317.0 492.5 316.0 486.0 316.0C479.5 316.0 475.2 316.7 470.0 317.6C464.8 318.5 460.0 320.6 455.0 321.4C450.0 322.2 445.8 322.4 440.0 322.5C434.2 322.6 426.7 322.1 420.0 321.7C413.3 321.3 407.0 320.2 400.0 320.2C393.0 320.2 384.8 321.9 378.0 321.8C371.2 321.7 365.3 320.6 359.0 319.3C352.7 318.0 346.8 315.2 340.0 313.8C333.2 312.4 325.3 311.0 318.0 311.0C310.7 311.0 302.7 312.6 296.4 313.6C290.1 314.6 285.0 316.1 280.0 317.2C275.0 318.3 270.9 319.6 266.4 320.2C261.9 320.8 254.7 321.9 253.2 320.5C251.7 319.1 255.4 316.9 257.5 312.0C259.6 307.1 262.9 298.7 266.0 291.0C269.1 283.3 272.9 274.3 276.4 266.0C279.9 257.7 283.7 248.5 286.8 241.0C289.9 233.5 292.1 226.8 295.0 221.0C297.9 215.2 299.5 209.2 304.0 206.3Z" fill="none" stroke="#f6ac2c" stroke-width="5" filter="url(#bl4)" opacity="0.4"/><path d="M296 214C300 207 304 204 322 201.5C348 200 375 203 400 205.3C428 204.6 456 202.5 479 201.4C488 201 493 204 499 216" fill="none" stroke="#f4aa34" stroke-width="9" filter="url(#bl4)" opacity="0.75"/><ellipse cx="300" cy="212" rx="14" ry="10" fill="#f8b848" opacity="0.6" filter="url(#bl6)"/><ellipse cx="400" cy="262" rx="80" ry="34" fill="#fff654" opacity="0.5" filter="url(#bl6)"/><ellipse cx="272" cy="304" rx="24" ry="18" fill="#fcc862" opacity="0.7" filter="url(#bl6)"/><ellipse cx="470" cy="324" rx="90" ry="9" fill="#fbb828" opacity="0.55" filter="url(#bl6)"/></g>
<path d="M284.2 187.2L276.6 197L286.2 208.2L283.6 210.6L294 222.3L291.6 224.2L308.9 234.6L297.2 216.4L299.9 214.9L289.7 202.9L292.2 201.5Z" fill="url(#boltg)"/>
<path d="M352.7 217.0L345.1 219.9M352.7 217.0L360.2 219.9M345.1 219.9L345.1 225.7M360.2 219.9L360.2 225.7M345.1 225.7L352.7 228.6M360.2 225.7L352.7 228.6M345.1 225.7L337.6 228.6M360.2 225.7L367.8 228.6M337.6 228.6L337.6 234.4M367.8 228.6L367.8 234.4M337.6 234.4L345.1 237.3M367.8 234.4L360.2 237.3M345.1 237.3L352.7 234.4M360.2 237.3L352.7 234.4M352.7 234.4L352.7 228.6" stroke="#9a8c14" stroke-width="1.1" fill="none"/>
<text x="345.1" y="222.3" font-size="6.6" font-weight="bold" text-anchor="middle" fill="#1a3ce6" stroke="#1a3ce6" stroke-width="0.25">N</text>
<text x="360.2" y="222.3" font-size="6.6" font-weight="bold" text-anchor="middle" fill="#1a3ce6" stroke="#1a3ce6" stroke-width="0.25">N</text>
<text x="352.7" y="231.0" font-size="6.6" font-weight="bold" text-anchor="middle" fill="#1a3ce6" stroke="#1a3ce6" stroke-width="0.25">N</text>
<text x="337.6" y="231.0" font-size="6.6" font-weight="bold" text-anchor="middle" fill="#1a3ce6" stroke="#1a3ce6" stroke-width="0.25">N</text>
<text x="367.8" y="231.0" font-size="6.6" font-weight="bold" text-anchor="middle" fill="#1a3ce6" stroke="#1a3ce6" stroke-width="0.25">N</text>
<text x="345.1" y="239.7" font-size="6.6" font-weight="bold" text-anchor="middle" fill="#1a3ce6" stroke="#1a3ce6" stroke-width="0.25">N</text>
<text x="360.2" y="239.7" font-size="6.6" font-weight="bold" text-anchor="middle" fill="#1a3ce6" stroke="#1a3ce6" stroke-width="0.25">N</text>
<path d="M398.2 217.0L390.6 219.9M398.2 217.0L405.8 219.9M390.6 219.9L390.6 225.7M405.8 219.9L405.8 225.7M390.6 225.7L398.2 228.6M405.8 225.7L398.2 228.6M390.6 225.7L383.1 228.6M405.8 225.7L413.3 228.6M383.1 228.6L383.1 234.4M413.3 228.6L413.3 234.4M383.1 234.4L390.6 237.3M413.3 234.4L405.8 237.3M390.6 237.3L398.2 234.4M405.8 237.3L398.2 234.4M398.2 234.4L398.2 228.6" stroke="#9a8c14" stroke-width="1.1" fill="none"/>
<text x="390.6" y="222.3" font-size="6.6" font-weight="bold" text-anchor="middle" fill="#1a3ce6" stroke="#1a3ce6" stroke-width="0.25">N</text>
<text x="405.8" y="222.3" font-size="6.6" font-weight="bold" text-anchor="middle" fill="#1a3ce6" stroke="#1a3ce6" stroke-width="0.25">N</text>
<text x="398.2" y="231.0" font-size="6.6" font-weight="bold" text-anchor="middle" fill="#1a3ce6" stroke="#1a3ce6" stroke-width="0.25">N</text>
<text x="383.1" y="231.0" font-size="6.6" font-weight="bold" text-anchor="middle" fill="#1a3ce6" stroke="#1a3ce6" stroke-width="0.25">N</text>
<text x="413.3" y="231.0" font-size="6.6" font-weight="bold" text-anchor="middle" fill="#1a3ce6" stroke="#1a3ce6" stroke-width="0.25">N</text>
<text x="390.6" y="239.7" font-size="6.6" font-weight="bold" text-anchor="middle" fill="#1a3ce6" stroke="#1a3ce6" stroke-width="0.25">N</text>
<text x="405.8" y="239.7" font-size="6.6" font-weight="bold" text-anchor="middle" fill="#1a3ce6" stroke="#1a3ce6" stroke-width="0.25">N</text>
<path d="M443.7 217.0L436.1 219.9M443.7 217.0L451.2 219.9M436.1 219.9L436.1 225.7M451.2 219.9L451.2 225.7M436.1 225.7L443.7 228.6M451.2 225.7L443.7 228.6M436.1 225.7L428.6 228.6M451.2 225.7L458.8 228.6M428.6 228.6L428.6 234.4M458.8 228.6L458.8 234.4M428.6 234.4L436.1 237.3M458.8 234.4L451.2 237.3M436.1 237.3L443.7 234.4M451.2 237.3L443.7 234.4M443.7 234.4L443.7 228.6" stroke="#9a8c14" stroke-width="1.1" fill="none"/>
<text x="436.1" y="222.3" font-size="6.6" font-weight="bold" text-anchor="middle" fill="#1a3ce6" stroke="#1a3ce6" stroke-width="0.25">N</text>
<text x="451.2" y="222.3" font-size="6.6" font-weight="bold" text-anchor="middle" fill="#1a3ce6" stroke="#1a3ce6" stroke-width="0.25">N</text>
<text x="443.7" y="231.0" font-size="6.6" font-weight="bold" text-anchor="middle" fill="#1a3ce6" stroke="#1a3ce6" stroke-width="0.25">N</text>
<text x="428.6" y="231.0" font-size="6.6" font-weight="bold" text-anchor="middle" fill="#1a3ce6" stroke="#1a3ce6" stroke-width="0.25">N</text>
<text x="458.8" y="231.0" font-size="6.6" font-weight="bold" text-anchor="middle" fill="#1a3ce6" stroke="#1a3ce6" stroke-width="0.25">N</text>
<text x="436.1" y="239.7" font-size="6.6" font-weight="bold" text-anchor="middle" fill="#1a3ce6" stroke="#1a3ce6" stroke-width="0.25">N</text>
<text x="451.2" y="239.7" font-size="6.6" font-weight="bold" text-anchor="middle" fill="#1a3ce6" stroke="#1a3ce6" stroke-width="0.25">N</text>
<path d="M373.3 247.8L365.5 250.8M373.3 247.8L381.1 250.8M365.5 250.8L365.5 256.8M381.1 250.8L381.1 256.8M365.5 256.8L373.3 259.8M381.1 256.8L373.3 259.8M365.5 256.8L357.7 259.8M381.1 256.8L388.9 259.8M357.7 259.8L357.7 265.8M388.9 259.8L388.9 265.8M357.7 265.8L365.5 268.8M388.9 265.8L381.1 268.8M365.5 268.8L373.3 265.8M381.1 268.8L373.3 265.8M373.3 265.8L373.3 259.8" stroke="#9a8c14" stroke-width="1.1" fill="none"/>
<text x="365.5" y="253.2" font-size="6.6" font-weight="bold" text-anchor="middle" fill="#1a3ce6" stroke="#1a3ce6" stroke-width="0.25">N</text>
<text x="381.1" y="253.2" font-size="6.6" font-weight="bold" text-anchor="middle" fill="#1a3ce6" stroke="#1a3ce6" stroke-width="0.25">N</text>
<text x="373.3" y="262.2" font-size="6.6" font-weight="bold" text-anchor="middle" fill="#1a3ce6" stroke="#1a3ce6" stroke-width="0.25">N</text>
<text x="357.7" y="262.2" font-size="6.6" font-weight="bold" text-anchor="middle" fill="#1a3ce6" stroke="#1a3ce6" stroke-width="0.25">N</text>
<text x="388.9" y="262.2" font-size="6.6" font-weight="bold" text-anchor="middle" fill="#1a3ce6" stroke="#1a3ce6" stroke-width="0.25">N</text>
<text x="365.5" y="271.2" font-size="6.6" font-weight="bold" text-anchor="middle" fill="#1a3ce6" stroke="#1a3ce6" stroke-width="0.25">N</text>
<text x="381.1" y="271.2" font-size="6.6" font-weight="bold" text-anchor="middle" fill="#1a3ce6" stroke="#1a3ce6" stroke-width="0.25">N</text>
<path d="M421.0 247.8L413.2 250.8M421.0 247.8L428.8 250.8M413.2 250.8L413.2 256.8M428.8 250.8L428.8 256.8M413.2 256.8L421.0 259.8M428.8 256.8L421.0 259.8M413.2 256.8L405.4 259.8M428.8 256.8L436.6 259.8M405.4 259.8L405.4 265.8M436.6 259.8L436.6 265.8M405.4 265.8L413.2 268.8M436.6 265.8L428.8 268.8M413.2 268.8L421.0 265.8M428.8 268.8L421.0 265.8M421.0 265.8L421.0 259.8" stroke="#9a8c14" stroke-width="1.1" fill="none"/>
<text x="413.2" y="253.2" font-size="6.6" font-weight="bold" text-anchor="middle" fill="#1a3ce6" stroke="#1a3ce6" stroke-width="0.25">N</text>
<text x="428.8" y="253.2" font-size="6.6" font-weight="bold" text-anchor="middle" fill="#1a3ce6" stroke="#1a3ce6" stroke-width="0.25">N</text>
<text x="421.0" y="262.2" font-size="6.6" font-weight="bold" text-anchor="middle" fill="#1a3ce6" stroke="#1a3ce6" stroke-width="0.25">N</text>
<text x="405.4" y="262.2" font-size="6.6" font-weight="bold" text-anchor="middle" fill="#1a3ce6" stroke="#1a3ce6" stroke-width="0.25">N</text>
<text x="436.6" y="262.2" font-size="6.6" font-weight="bold" text-anchor="middle" fill="#1a3ce6" stroke="#1a3ce6" stroke-width="0.25">N</text>
<text x="413.2" y="271.2" font-size="6.6" font-weight="bold" text-anchor="middle" fill="#1a3ce6" stroke="#1a3ce6" stroke-width="0.25">N</text>
<text x="428.8" y="271.2" font-size="6.6" font-weight="bold" text-anchor="middle" fill="#1a3ce6" stroke="#1a3ce6" stroke-width="0.25">N</text>
<path d="M469.0 247.8L461.2 250.8M469.0 247.8L476.8 250.8M461.2 250.8L461.2 256.8M476.8 250.8L476.8 256.8M461.2 256.8L469.0 259.8M476.8 256.8L469.0 259.8M461.2 256.8L453.4 259.8M476.8 256.8L484.6 259.8M453.4 259.8L453.4 265.8M484.6 259.8L484.6 265.8M453.4 265.8L461.2 268.8M484.6 265.8L476.8 268.8M461.2 268.8L469.0 265.8M476.8 268.8L469.0 265.8M469.0 265.8L469.0 259.8" stroke="#9a8c14" stroke-width="1.1" fill="none"/>
<text x="461.2" y="253.2" font-size="6.6" font-weight="bold" text-anchor="middle" fill="#1a3ce6" stroke="#1a3ce6" stroke-width="0.25">N</text>
<text x="476.8" y="253.2" font-size="6.6" font-weight="bold" text-anchor="middle" fill="#1a3ce6" stroke="#1a3ce6" stroke-width="0.25">N</text>
<text x="469.0" y="262.2" font-size="6.6" font-weight="bold" text-anchor="middle" fill="#1a3ce6" stroke="#1a3ce6" stroke-width="0.25">N</text>
<text x="453.4" y="262.2" font-size="6.6" font-weight="bold" text-anchor="middle" fill="#1a3ce6" stroke="#1a3ce6" stroke-width="0.25">N</text>
<text x="484.6" y="262.2" font-size="6.6" font-weight="bold" text-anchor="middle" fill="#1a3ce6" stroke="#1a3ce6" stroke-width="0.25">N</text>
<text x="461.2" y="271.2" font-size="6.6" font-weight="bold" text-anchor="middle" fill="#1a3ce6" stroke="#1a3ce6" stroke-width="0.25">N</text>
<text x="476.8" y="271.2" font-size="6.6" font-weight="bold" text-anchor="middle" fill="#1a3ce6" stroke="#1a3ce6" stroke-width="0.25">N</text>
<path d="M396.4 277.1L388.1 280.7M396.4 277.1L404.7 280.7M388.1 280.7L388.1 287.9M404.7 280.7L404.7 287.9M388.1 287.9L396.4 291.5M404.7 287.9L396.4 291.5M388.1 287.9L379.8 291.5M404.7 287.9L413.0 291.5M379.8 291.5L379.8 298.7M413.0 291.5L413.0 298.7M379.8 298.7L388.1 302.3M413.0 298.7L404.7 302.3M388.1 302.3L396.4 298.7M404.7 302.3L396.4 298.7M396.4 298.7L396.4 291.5" stroke="#9a8c14" stroke-width="1.1" fill="none"/>
<text x="388.1" y="283.2" font-size="7" font-weight="bold" text-anchor="middle" fill="#1a3ce6" stroke="#1a3ce6" stroke-width="0.25">N</text>
<text x="404.7" y="283.2" font-size="7" font-weight="bold" text-anchor="middle" fill="#1a3ce6" stroke="#1a3ce6" stroke-width="0.25">N</text>
<text x="396.4" y="294.0" font-size="7" font-weight="bold" text-anchor="middle" fill="#1a3ce6" stroke="#1a3ce6" stroke-width="0.25">N</text>
<text x="379.8" y="294.0" font-size="7" font-weight="bold" text-anchor="middle" fill="#1a3ce6" stroke="#1a3ce6" stroke-width="0.25">N</text>
<text x="413.0" y="294.0" font-size="7" font-weight="bold" text-anchor="middle" fill="#1a3ce6" stroke="#1a3ce6" stroke-width="0.25">N</text>
<text x="388.1" y="304.8" font-size="7" font-weight="bold" text-anchor="middle" fill="#1a3ce6" stroke="#1a3ce6" stroke-width="0.25">N</text>
<text x="404.7" y="304.8" font-size="7" font-weight="bold" text-anchor="middle" fill="#1a3ce6" stroke="#1a3ce6" stroke-width="0.25">N</text>
<path d="M446.6 277.1L438.3 280.7M446.6 277.1L454.9 280.7M438.3 280.7L438.3 287.9M454.9 280.7L454.9 287.9M438.3 287.9L446.6 291.5M454.9 287.9L446.6 291.5M438.3 287.9L430.0 291.5M454.9 287.9L463.2 291.5M430.0 291.5L430.0 298.7M463.2 291.5L463.2 298.7M430.0 298.7L438.3 302.3M463.2 298.7L454.9 302.3M438.3 302.3L446.6 298.7M454.9 302.3L446.6 298.7M446.6 298.7L446.6 291.5" stroke="#9a8c14" stroke-width="1.1" fill="none"/>
<text x="438.3" y="283.2" font-size="7" font-weight="bold" text-anchor="middle" fill="#1a3ce6" stroke="#1a3ce6" stroke-width="0.25">N</text>
<text x="454.9" y="283.2" font-size="7" font-weight="bold" text-anchor="middle" fill="#1a3ce6" stroke="#1a3ce6" stroke-width="0.25">N</text>
<text x="446.6" y="294.0" font-size="7" font-weight="bold" text-anchor="middle" fill="#1a3ce6" stroke="#1a3ce6" stroke-width="0.25">N</text>
<text x="430.0" y="294.0" font-size="7" font-weight="bold" text-anchor="middle" fill="#1a3ce6" stroke="#1a3ce6" stroke-width="0.25">N</text>
<text x="463.2" y="294.0" font-size="7" font-weight="bold" text-anchor="middle" fill="#1a3ce6" stroke="#1a3ce6" stroke-width="0.25">N</text>
<text x="438.3" y="304.8" font-size="7" font-weight="bold" text-anchor="middle" fill="#1a3ce6" stroke="#1a3ce6" stroke-width="0.25">N</text>
<text x="454.9" y="304.8" font-size="7" font-weight="bold" text-anchor="middle" fill="#1a3ce6" stroke="#1a3ce6" stroke-width="0.25">N</text>
<path d="M497.0 277.1L488.7 280.7M497.0 277.1L505.3 280.7M488.7 280.7L488.7 287.9M505.3 280.7L505.3 287.9M488.7 287.9L497.0 291.5M505.3 287.9L497.0 291.5M488.7 287.9L480.4 291.5M505.3 287.9L513.6 291.5M480.4 291.5L480.4 298.7M513.6 291.5L513.6 298.7M480.4 298.7L488.7 302.3M513.6 298.7L505.3 302.3M488.7 302.3L497.0 298.7M505.3 302.3L497.0 298.7M497.0 298.7L497.0 291.5" stroke="#9a8c14" stroke-width="1.1" fill="none"/>
<text x="488.7" y="283.2" font-size="7" font-weight="bold" text-anchor="middle" fill="#1a3ce6" stroke="#1a3ce6" stroke-width="0.25">N</text>
<text x="505.3" y="283.2" font-size="7" font-weight="bold" text-anchor="middle" fill="#1a3ce6" stroke="#1a3ce6" stroke-width="0.25">N</text>
<text x="497.0" y="294.0" font-size="7" font-weight="bold" text-anchor="middle" fill="#1a3ce6" stroke="#1a3ce6" stroke-width="0.25">N</text>
<text x="480.4" y="294.0" font-size="7" font-weight="bold" text-anchor="middle" fill="#1a3ce6" stroke="#1a3ce6" stroke-width="0.25">N</text>
<text x="513.6" y="294.0" font-size="7" font-weight="bold" text-anchor="middle" fill="#1a3ce6" stroke="#1a3ce6" stroke-width="0.25">N</text>
<text x="488.7" y="304.8" font-size="7" font-weight="bold" text-anchor="middle" fill="#1a3ce6" stroke="#1a3ce6" stroke-width="0.25">N</text>
<text x="505.3" y="304.8" font-size="7" font-weight="bold" text-anchor="middle" fill="#1a3ce6" stroke="#1a3ce6" stroke-width="0.25">N</text>
<path d="M352.7 217.0L355.7 214.4" stroke="#9a8c14" stroke-width="1.1" fill="none"/>
<path d="M353.7 211.4L349.7 209.4" stroke="#9a8c14" stroke-width="1.1" fill="none"/>
<path d="M357.7 211.4L361.7 209.4" stroke="#9a8c14" stroke-width="1.1" fill="none"/>
<text x="355.7" y="214.8" font-size="6.6" font-weight="bold" font-style="normal" text-anchor="middle" fill="#19c832">N</text>
<text x="348.2" y="210.5" font-size="4.6" font-weight="bold" font-style="normal" text-anchor="middle" fill="#333">H</text>
<text x="363.2" y="210.5" font-size="4.6" font-weight="bold" font-style="normal" text-anchor="middle" fill="#333">H</text>
<path d="M398.2 217.0L398.8 214.4" stroke="#9a8c14" stroke-width="1.1" fill="none"/>
<path d="M396.8 211.4L392.8 209.4" stroke="#9a8c14" stroke-width="1.1" fill="none"/>
<path d="M400.8 211.4L404.8 209.4" stroke="#9a8c14" stroke-width="1.1" fill="none"/>
<text x="398.8" y="214.8" font-size="6.6" font-weight="bold" font-style="normal" text-anchor="middle" fill="#19c832">N</text>
<text x="391.3" y="210.5" font-size="4.6" font-weight="bold" font-style="normal" text-anchor="middle" fill="#333">H</text>
<text x="406.3" y="210.5" font-size="4.6" font-weight="bold" font-style="normal" text-anchor="middle" fill="#333">H</text>
<path d="M443.7 217.0L442.1 214.4" stroke="#9a8c14" stroke-width="1.1" fill="none"/>
<path d="M440.1 211.4L436.1 209.4" stroke="#9a8c14" stroke-width="1.1" fill="none"/>
<path d="M444.1 211.4L448.1 209.4" stroke="#9a8c14" stroke-width="1.1" fill="none"/>
<text x="442.1" y="214.8" font-size="6.6" font-weight="bold" font-style="normal" text-anchor="middle" fill="#19c832">N</text>
<text x="434.6" y="210.5" font-size="4.6" font-weight="bold" font-style="normal" text-anchor="middle" fill="#333">H</text>
<text x="449.6" y="210.5" font-size="4.6" font-weight="bold" font-style="normal" text-anchor="middle" fill="#333">H</text>
<path d="M367.8 234.4L375.5 237.3" stroke="#9a8c14" stroke-width="1.1" fill="none"/>
<path d="M383.1 234.4L375.5 237.3" stroke="#9a8c14" stroke-width="1.1" fill="none"/>
<text x="375.5" y="239.7" font-size="6.6" font-weight="bold" font-style="normal" text-anchor="middle" fill="#1a3ce6">N</text>
<path d="M413.3 234.4L421.0 237.3" stroke="#9a8c14" stroke-width="1.1" fill="none"/>
<path d="M428.6 234.4L421.0 237.3" stroke="#9a8c14" stroke-width="1.1" fill="none"/>
<text x="421.0" y="239.6" font-size="6.4" font-weight="bold" font-style="normal" text-anchor="middle" fill="#ee1c1c">O</text>
<path d="M337.6 234.4L330.0 237.3" stroke="#9a8c14" stroke-width="1.1" fill="none"/>
<text x="331.0" y="239.5" font-size="6" font-weight="bold" font-style="italic" text-anchor="end" fill="#ee1c1c">HO</text>
<path d="M458.8 234.4L466.0 236.8" stroke="#9a8c14" stroke-width="1.1" fill="none"/>
<path d="M375.5 237.3L373.3 247.8" stroke="#9a8c14" stroke-width="1.1" fill="none"/>
<text x="424.0" y="244.7" font-size="6" font-weight="bold" font-style="normal" text-anchor="middle" fill="#222">NH<tspan font-size="4" dy="1">2</tspan></text>
<path d="M421.0 247.8L421.0 245.5" stroke="#9a8c14" stroke-width="1.1" fill="none"/>
<path d="M469.0 247.8L469.0 240.0" stroke="#9a8c14" stroke-width="1.1" fill="none"/>
<path d="M357.7 265.8L347.0 270.0" stroke="#9a8c14" stroke-width="1.1" fill="none"/>
<text x="347.0" y="272.4" font-size="6.6" font-weight="bold" font-style="normal" text-anchor="middle" fill="#19c832">N</text>
<text x="340.3" y="268.7" font-size="4.6" font-weight="bold" font-style="normal" text-anchor="middle" fill="#333">H</text>
<text x="346.6" y="278.7" font-size="4.6" font-weight="bold" font-style="normal" text-anchor="middle" fill="#333">H</text>
<path d="M344.5 269.0L342.0 268.0" stroke="#9a8c14" stroke-width="1.1" fill="none"/>
<path d="M388.9 265.8L397.0 269.0" stroke="#9a8c14" stroke-width="1.1" fill="none"/>
<path d="M405.4 265.8L397.0 269.0" stroke="#9a8c14" stroke-width="1.1" fill="none"/>
<text x="397.0" y="271.4" font-size="6.6" font-weight="bold" font-style="normal" text-anchor="middle" fill="#1a3ce6">N</text>
<path d="M436.6 265.8L445.5 268.6" stroke="#9a8c14" stroke-width="1.1" fill="none"/>
<path d="M453.4 265.8L445.5 268.6" stroke="#9a8c14" stroke-width="1.1" fill="none"/>
<text x="445.5" y="271.0" font-size="6.6" font-weight="bold" font-style="normal" text-anchor="middle" fill="#1a3ce6">N</text>
<path d="M484.6 265.8L494.0 268.4" stroke="#9a8c14" stroke-width="1.1" fill="none"/>
<text x="494.0" y="270.8" font-size="6.6" font-weight="bold" font-style="normal" text-anchor="middle" fill="#19c832">N</text>
<text x="502.6" y="267.5" font-size="4.8" font-weight="bold" font-style="normal" text-anchor="middle" fill="#333">H</text>
<path d="M496.5 267.6L500.0 266.5" stroke="#9a8c14" stroke-width="1.1" fill="none"/>
<path d="M397.0 269.0L396.4 277.1" stroke="#9a8c14" stroke-width="1.1" fill="none"/>
<path d="M445.5 268.6L446.6 277.1" stroke="#9a8c14" stroke-width="1.1" fill="none"/>
<path d="M494.0 268.4L497.0 277.1" stroke="#9a8c14" stroke-width="1.1" fill="none"/>
<path d="M379.8 298.7L371.0 303.6" stroke="#9a8c14" stroke-width="1.1" fill="none"/>
<text x="372.0" y="306.4" font-size="7.2" font-weight="bold" font-style="normal" text-anchor="end" fill="#ee1c1c">HO</text>
<path d="M413.0 298.7L421.3 304.0" stroke="#9a8c14" stroke-width="1.1" fill="none"/>
<path d="M430.0 298.7L421.3 304.0" stroke="#9a8c14" stroke-width="1.1" fill="none"/>
<text x="421.3" y="306.4" font-size="6.6" font-weight="bold" font-style="normal" text-anchor="middle" fill="#19c832">N</text>
<path d="M421.3 307.0L421.3 309.5" stroke="#9a8c14" stroke-width="1.1" fill="none"/>
<text x="421.3" y="314.0" font-size="4.8" font-weight="bold" font-style="normal" text-anchor="middle" fill="#333">H</text>
<path d="M463.2 298.7L472.5 304.0" stroke="#9a8c14" stroke-width="1.1" fill="none"/>
<path d="M480.4 298.7L472.5 304.0" stroke="#9a8c14" stroke-width="1.1" fill="none"/>
<text x="472.5" y="306.5" font-size="7" font-weight="bold" font-style="normal" text-anchor="middle" fill="#ee1c1c">O</text>
<path d="M513.6 298.7L521.0 304.0" stroke="#9a8c14" stroke-width="1.1" fill="none"/>
<text x="521.0" y="306.7" font-size="7.4" font-weight="bold" font-style="normal" text-anchor="start" fill="#ee1c1c">OH</text>
<circle cx="332.3" cy="220" r="6.3" fill="url(#eg)"/>
<text x="332.2" y="222.4" font-size="7.5" font-weight="bold" text-anchor="middle" fill="#000" stroke="#000" stroke-width="0.3">e<tspan font-size="5" dy="-2.8">-</tspan></text>
<path d="M369 212.4C355 209.8 341.5 215 337.4 228C336 233 336.2 238 337.2 242.3L334.2 243L340.2 249.3L343 240.8L340 241.5C339.2 237 339.4 233 340.4 229.4C343.6 219.6 354.5 215.4 367.4 216.8Z" fill="url(#arr1)"/>
<text transform="translate(371.2,217.6) rotate(22)" font-size="8" font-weight="bold" fill="#111">Fe<tspan font-size="5" dy="-2">3+</tspan></text>
<text x="328.8" y="256.4" font-size="10" font-weight="bold" fill="#111">Fe<tspan font-size="6" dy="-3.4">2+</tspan></text>
<path d="M338.2 257.8C334.5 268 335.5 278 341 284.5" fill="none" stroke="#16806a" stroke-width="1.1"/><path d="M343 287l-4.2 -1.2l2.6 -2.6z" fill="#0a3c50"/>
<text x="317.6" y="284" font-size="10" font-weight="bold" fill="#111" textLength="18.5" lengthAdjust="spacingAndGlyphs">H<tspan font-size="6" dy="2.2">2</tspan><tspan dy="-2.2">O</tspan><tspan font-size="6" dy="2.2">2</tspan></text>
<text transform="translate(339.5,294.6) rotate(-18)" font-size="10.5" font-weight="bold" fill="#ee1c1c">·OH</text>
<text transform="translate(448.6,262.6) rotate(-74)" font-size="10" font-weight="bold" fill="#ee1c1c">·OH</text>
<text transform="translate(278,303.6) rotate(12.6)" font-size="12.6" font-weight="bold" fill="#111" textLength="77.5" lengthAdjust="spacingAndGlyphs">Organic pollutants</text>
<path d="M336.8 310C339.5 300 354 290.5 382 287.2" fill="none" stroke="#1a5e20" stroke-width="1.1"/><path d="M388.2 286.6l-7.2 -3.6l1 6.6z" fill="#0f4a18"/>
<text x="390.4" y="287.4" font-size="8.4" font-weight="bold" fill="#0a0a0a" style="font-family:'DejaVu Sans',sans-serif" textLength="131.4" lengthAdjust="spacingAndGlyphs">Degradation intermediate</text>
<path d="M464.6 273.6C455.5 268.5 451.6 260.5 451.9 254C452.3 246 458 238.6 471.8 233.2L471 230.6L479 232.6L473.8 238.6L473 236.8C464.2 240.4 457.6 247 457 254.9C456.6 261.6 460.4 266.8 466 270.8Z" fill="url(#arr2)"/>
<text transform="translate(462.8,217.2) rotate(38.5)" font-size="10" font-weight="bold" fill="#111" textLength="70" lengthAdjust="spacingAndGlyphs">CO<tspan font-size="6" dy="2">2</tspan><tspan dy="-2">+H</tspan><tspan font-size="6" dy="2">2</tspan><tspan dy="-2">O+Others</tspan></text>
<circle cx="267.6" cy="258.2" r="3.3" fill="#e8231a"/><circle cx="272.8" cy="255.6" r="3.3" fill="#f0302a"/><circle cx="267.6" cy="258.2" r="1.1" fill="#400"/><circle cx="272.8" cy="255.6" r="1.1" fill="#400"/>
<text x="279.8" y="266.5" font-size="6" font-weight="bold" fill="#111">O<tspan font-size="3.8" dy="1">2</tspan></text>
<path d="M272.7 268.6C272.8 260.5 280 254.5 289 252.9" fill="none" stroke="#222" stroke-width="0.7"/><path d="M292 252.4l-3.6 -1.2l0.6 3z" fill="#111"/>
<path d="M308.2 267.6C311.5 272 310.5 278 305 280.6C302 281.6 298.5 280.4 296 279.4M306.5 279.8C309 281.6 312.5 282 315.5 281.2" fill="none" stroke="#222" stroke-width="0.7"/><path d="M293.4 278.6l3.6 -0.6l-1.2 2.8z" fill="#111"/>
<g transform="translate(309,254) scale(1.18,1.25) translate(-309,-253)">
<polygon points="302.9,245.8 300.0,247.0 297.1,245.8 297.1,243.2 300.0,242.0 302.9,243.2" fill="none" stroke="#a89a2c" stroke-width="0.6"/>
<circle cx="302.9" cy="245.8" r="0.75" fill="#3c54dc"/>
<circle cx="297.1" cy="245.8" r="0.75" fill="#3c54dc"/>
<circle cx="300.0" cy="242.0" r="0.75" fill="#3c54dc"/>
<polygon points="308.6,245.8 305.7,247.0 302.8,245.8 302.8,243.2 305.7,242.0 308.6,243.2" fill="none" stroke="#a89a2c" stroke-width="0.6"/>
<circle cx="308.6" cy="245.8" r="0.75" fill="#3c54dc"/>
<circle cx="302.8" cy="245.8" r="0.75" fill="#3c54dc"/>
<circle cx="305.7" cy="242.0" r="0.75" fill="#3c54dc"/>
<polygon points="320.0,245.8 317.1,247.0 314.2,245.8 314.2,243.2 317.1,242.0 320.0,243.2" fill="none" stroke="#a89a2c" stroke-width="0.6"/>
<circle cx="320.0" cy="245.8" r="0.75" fill="#3c54dc"/>
<circle cx="314.2" cy="245.8" r="0.75" fill="#3c54dc"/>
<circle cx="317.1" cy="242.0" r="0.75" fill="#3c54dc"/>
<polygon points="325.7,245.8 322.8,247.0 319.9,245.8 319.9,243.2 322.8,242.0 325.7,243.2" fill="none" stroke="#a89a2c" stroke-width="0.6"/>
<circle cx="325.7" cy="245.8" r="0.75" fill="#3c54dc"/>
<circle cx="319.9" cy="245.8" r="0.75" fill="#3c54dc"/>
<circle cx="322.8" cy="242.0" r="0.75" fill="#3c54dc"/>
<polygon points="305.7,249.6 302.9,250.8 300.0,249.6 300.0,247.0 302.9,245.8 305.7,247.0" fill="none" stroke="#a89a2c" stroke-width="0.6"/>
<circle cx="305.7" cy="249.6" r="0.75" fill="#3c54dc"/>
<circle cx="300.0" cy="249.6" r="0.75" fill="#3c54dc"/>
<circle cx="302.9" cy="245.8" r="0.75" fill="#3c54dc"/>
<polygon points="311.4,249.6 308.6,250.8 305.7,249.6 305.7,247.0 308.6,245.8 311.4,247.0" fill="none" stroke="#a89a2c" stroke-width="0.6"/>
<circle cx="311.4" cy="249.6" r="0.75" fill="#3c54dc"/>
<circle cx="305.7" cy="249.6" r="0.75" fill="#3c54dc"/>
<circle cx="308.6" cy="245.8" r="0.75" fill="#3c54dc"/>
<polygon points="317.1,249.6 314.2,250.8 311.4,249.6 311.4,247.0 314.2,245.8 317.1,247.0" fill="none" stroke="#a89a2c" stroke-width="0.6"/>
<circle cx="317.1" cy="249.6" r="0.75" fill="#3c54dc"/>
<circle cx="311.4" cy="249.6" r="0.75" fill="#3c54dc"/>
<circle cx="314.2" cy="245.8" r="0.75" fill="#3c54dc"/>
<polygon points="322.8,249.6 319.9,250.8 317.1,249.6 317.1,247.0 319.9,245.8 322.8,247.0" fill="none" stroke="#a89a2c" stroke-width="0.6"/>
<circle cx="322.8" cy="249.6" r="0.75" fill="#3c54dc"/>
<circle cx="317.1" cy="249.6" r="0.75" fill="#3c54dc"/>
<circle cx="319.9" cy="245.8" r="0.75" fill="#3c54dc"/>
<polygon points="308.6,253.4 305.7,254.6 302.8,253.4 302.8,250.8 305.7,249.6 308.6,250.8" fill="none" stroke="#a89a2c" stroke-width="0.6"/>
<circle cx="308.6" cy="253.4" r="0.75" fill="#3c54dc"/>
<circle cx="302.8" cy="253.4" r="0.75" fill="#3c54dc"/>
<circle cx="305.7" cy="249.6" r="0.75" fill="#3c54dc"/>
<polygon points="314.3,253.4 311.4,254.6 308.5,253.4 308.5,250.8 311.4,249.6 314.3,250.8" fill="none" stroke="#a89a2c" stroke-width="0.6"/>
<circle cx="314.3" cy="253.4" r="0.75" fill="#3c54dc"/>
<circle cx="308.5" cy="253.4" r="0.75" fill="#3c54dc"/>
<circle cx="311.4" cy="249.6" r="0.75" fill="#3c54dc"/>
<polygon points="305.7,257.2 302.9,258.4 300.0,257.2 300.0,254.6 302.9,253.4 305.7,254.6" fill="none" stroke="#a89a2c" stroke-width="0.6"/>
<circle cx="305.7" cy="257.2" r="0.75" fill="#3c54dc"/>
<circle cx="300.0" cy="257.2" r="0.75" fill="#3c54dc"/>
<circle cx="302.9" cy="253.4" r="0.75" fill="#3c54dc"/>
<polygon points="311.4,257.2 308.6,258.4 305.7,257.2 305.7,254.6 308.6,253.4 311.4,254.6" fill="none" stroke="#a89a2c" stroke-width="0.6"/>
<circle cx="311.4" cy="257.2" r="0.75" fill="#3c54dc"/>
<circle cx="305.7" cy="257.2" r="0.75" fill="#3c54dc"/>
<circle cx="308.6" cy="253.4" r="0.75" fill="#3c54dc"/>
<polygon points="308.6,261.0 305.7,262.2 302.8,261.0 302.8,258.4 305.7,257.2 308.6,258.4" fill="none" stroke="#a89a2c" stroke-width="0.6"/>
<circle cx="308.6" cy="261.0" r="0.75" fill="#3c54dc"/>
<circle cx="302.8" cy="261.0" r="0.75" fill="#3c54dc"/>
<circle cx="305.7" cy="257.2" r="0.75" fill="#3c54dc"/>
<polygon points="305.7,264.8 302.9,266.0 300.0,264.8 300.0,262.2 302.9,261.0 305.7,262.2" fill="none" stroke="#a89a2c" stroke-width="0.6"/>
<circle cx="305.7" cy="264.8" r="0.75" fill="#3c54dc"/>
<circle cx="300.0" cy="264.8" r="0.75" fill="#3c54dc"/>
<circle cx="302.9" cy="261.0" r="0.75" fill="#3c54dc"/>
</g>
<g transform="translate(278,288) scale(1.12,1.3) translate(-277,-286.5)">
<polygon points="270.9,276.3 268.0,277.5 265.1,276.3 265.1,273.7 268.0,272.5 270.9,273.7" fill="none" stroke="#a89a2c" stroke-width="0.6"/>
<circle cx="270.9" cy="276.3" r="0.75" fill="#3c54dc"/>
<circle cx="265.1" cy="276.3" r="0.75" fill="#3c54dc"/>
<circle cx="268.0" cy="272.5" r="0.75" fill="#3c54dc"/>
<polygon points="276.6,276.3 273.7,277.5 270.8,276.3 270.8,273.7 273.7,272.5 276.6,273.7" fill="none" stroke="#a89a2c" stroke-width="0.6"/>
<circle cx="276.6" cy="276.3" r="0.75" fill="#3c54dc"/>
<circle cx="270.8" cy="276.3" r="0.75" fill="#3c54dc"/>
<circle cx="273.7" cy="272.5" r="0.75" fill="#3c54dc"/>
<polygon points="268.0,280.1 265.1,281.3 262.3,280.1 262.3,277.5 265.1,276.3 268.0,277.5" fill="none" stroke="#8088a8" stroke-width="0.6"/>
<circle cx="268.0" cy="280.1" r="0.75" fill="#3c54dc"/>
<circle cx="262.3" cy="280.1" r="0.75" fill="#3c54dc"/>
<circle cx="265.1" cy="276.3" r="0.75" fill="#3c54dc"/>
<polygon points="273.7,280.1 270.9,281.3 268.0,280.1 268.0,277.5 270.9,276.3 273.7,277.5" fill="none" stroke="#a89a2c" stroke-width="0.6"/>
<circle cx="273.7" cy="280.1" r="0.75" fill="#3c54dc"/>
<circle cx="268.0" cy="280.1" r="0.75" fill="#3c54dc"/>
<circle cx="270.9" cy="276.3" r="0.75" fill="#3c54dc"/>
<polygon points="279.4,280.1 276.6,281.3 273.7,280.1 273.7,277.5 276.6,276.3 279.4,277.5" fill="none" stroke="#a89a2c" stroke-width="0.6"/>
<circle cx="279.4" cy="280.1" r="0.75" fill="#3c54dc"/>
<circle cx="273.7" cy="280.1" r="0.75" fill="#3c54dc"/>
<circle cx="276.6" cy="276.3" r="0.75" fill="#3c54dc"/>
<polygon points="285.1,280.1 282.2,281.3 279.4,280.1 279.4,277.5 282.2,276.3 285.1,277.5" fill="none" stroke="#a89a2c" stroke-width="0.6"/>
<circle cx="285.1" cy="280.1" r="0.75" fill="#3c54dc"/>
<circle cx="279.4" cy="280.1" r="0.75" fill="#3c54dc"/>
<circle cx="282.2" cy="276.3" r="0.75" fill="#3c54dc"/>
<polygon points="290.8,280.1 287.9,281.3 285.1,280.1 285.1,277.5 287.9,276.3 290.8,277.5" fill="none" stroke="#a89a2c" stroke-width="0.6"/>
<circle cx="290.8" cy="280.1" r="0.75" fill="#3c54dc"/>
<circle cx="285.1" cy="280.1" r="0.75" fill="#3c54dc"/>
<circle cx="287.9" cy="276.3" r="0.75" fill="#3c54dc"/>
<polygon points="270.9,283.9 268.0,285.1 265.1,283.9 265.1,281.3 268.0,280.1 270.9,281.3" fill="none" stroke="#a89a2c" stroke-width="0.6"/>
<circle cx="270.9" cy="283.9" r="0.75" fill="#3c54dc"/>
<circle cx="265.1" cy="283.9" r="0.75" fill="#3c54dc"/>
<circle cx="268.0" cy="280.1" r="0.75" fill="#3c54dc"/>
<polygon points="276.6,283.9 273.7,285.1 270.8,283.9 270.8,281.3 273.7,280.1 276.6,281.3" fill="none" stroke="#a89a2c" stroke-width="0.6"/>
<circle cx="276.6" cy="283.9" r="0.75" fill="#3c54dc"/>
<circle cx="270.8" cy="283.9" r="0.75" fill="#3c54dc"/>
<circle cx="273.7" cy="280.1" r="0.75" fill="#3c54dc"/>
<polygon points="288.0,283.9 285.1,285.1 282.2,283.9 282.2,281.3 285.1,280.1 288.0,281.3" fill="none" stroke="#a89a2c" stroke-width="0.6"/>
<circle cx="288.0" cy="283.9" r="0.75" fill="#3c54dc"/>
<circle cx="282.2" cy="283.9" r="0.75" fill="#3c54dc"/>
<circle cx="285.1" cy="280.1" r="0.75" fill="#3c54dc"/>
<polygon points="273.7,287.7 270.9,288.9 268.0,287.7 268.0,285.1 270.9,283.9 273.7,285.1" fill="none" stroke="#a89a2c" stroke-width="0.6"/>
<circle cx="273.7" cy="287.7" r="0.75" fill="#3c54dc"/>
<circle cx="268.0" cy="287.7" r="0.75" fill="#3c54dc"/>
<circle cx="270.9" cy="283.9" r="0.75" fill="#3c54dc"/>
<polygon points="279.4,287.7 276.6,288.9 273.7,287.7 273.7,285.1 276.6,283.9 279.4,285.1" fill="none" stroke="#a89a2c" stroke-width="0.6"/>
<circle cx="279.4" cy="287.7" r="0.75" fill="#3c54dc"/>
<circle cx="273.7" cy="287.7" r="0.75" fill="#3c54dc"/>
<circle cx="276.6" cy="283.9" r="0.75" fill="#3c54dc"/>
<polygon points="270.9,291.5 268.0,292.7 265.1,291.5 265.1,288.9 268.0,287.7 270.9,288.9" fill="none" stroke="#a89a2c" stroke-width="0.6"/>
<circle cx="270.9" cy="291.5" r="0.75" fill="#3c54dc"/>
<circle cx="265.1" cy="291.5" r="0.75" fill="#3c54dc"/>
<circle cx="268.0" cy="287.7" r="0.75" fill="#3c54dc"/>
<polygon points="276.6,291.5 273.7,292.7 270.8,291.5 270.8,288.9 273.7,287.7 276.6,288.9" fill="none" stroke="#a89a2c" stroke-width="0.6"/>
<circle cx="276.6" cy="291.5" r="0.75" fill="#3c54dc"/>
<circle cx="270.8" cy="291.5" r="0.75" fill="#3c54dc"/>
<circle cx="273.7" cy="287.7" r="0.75" fill="#3c54dc"/>
<polygon points="268.0,295.3 265.1,296.5 262.3,295.3 262.3,292.7 265.1,291.5 268.0,292.7" fill="none" stroke="#a89a2c" stroke-width="0.6"/>
<circle cx="268.0" cy="295.3" r="0.75" fill="#3c54dc"/>
<circle cx="262.3" cy="295.3" r="0.75" fill="#3c54dc"/>
<circle cx="265.1" cy="291.5" r="0.75" fill="#3c54dc"/>
<polygon points="265.2,299.1 262.3,300.3 259.4,299.1 259.4,296.5 262.3,295.3 265.2,296.5" fill="none" stroke="#a89a2c" stroke-width="0.6"/>
<circle cx="265.2" cy="299.1" r="0.75" fill="#3c54dc"/>
<circle cx="259.4" cy="299.1" r="0.75" fill="#3c54dc"/>
<circle cx="262.3" cy="295.3" r="0.75" fill="#3c54dc"/>
</g>
<circle cx="297" cy="241.5" r="1.1" fill="#2fc040"/>
<circle cx="313" cy="242" r="1.1" fill="#2fc040"/>
<circle cx="326" cy="243.5" r="1.1" fill="#f08030"/>
<circle cx="325.5" cy="254.5" r="1.1" fill="#2fc040"/>
<circle cx="301" cy="266.5" r="1.1" fill="#f07030"/>
<circle cx="262" cy="275.5" r="1.1" fill="#2fc040"/>
<circle cx="292.5" cy="281.5" r="1.1" fill="#2fc040"/>
<circle cx="292" cy="276" r="1.1" fill="#d8c020"/>
<circle cx="279" cy="290" r="1.1" fill="#f08030"/>
<circle cx="259" cy="300.5" r="1.1" fill="#f08030"/>
<text transform="translate(5.3,22.4) scale(0.93,1.1)" font-size="32" font-weight="bold" fill="#000">a</text>
<text x="256.3" y="27" font-size="32" font-weight="bold" fill="#000">b</text>
<text x="7.8" y="191.4" font-size="32" font-weight="bold" fill="#000">c</text>
<text x="255.2" y="192.5" font-size="32" font-weight="bold" fill="#000">d</text>
</svg></body></html>
